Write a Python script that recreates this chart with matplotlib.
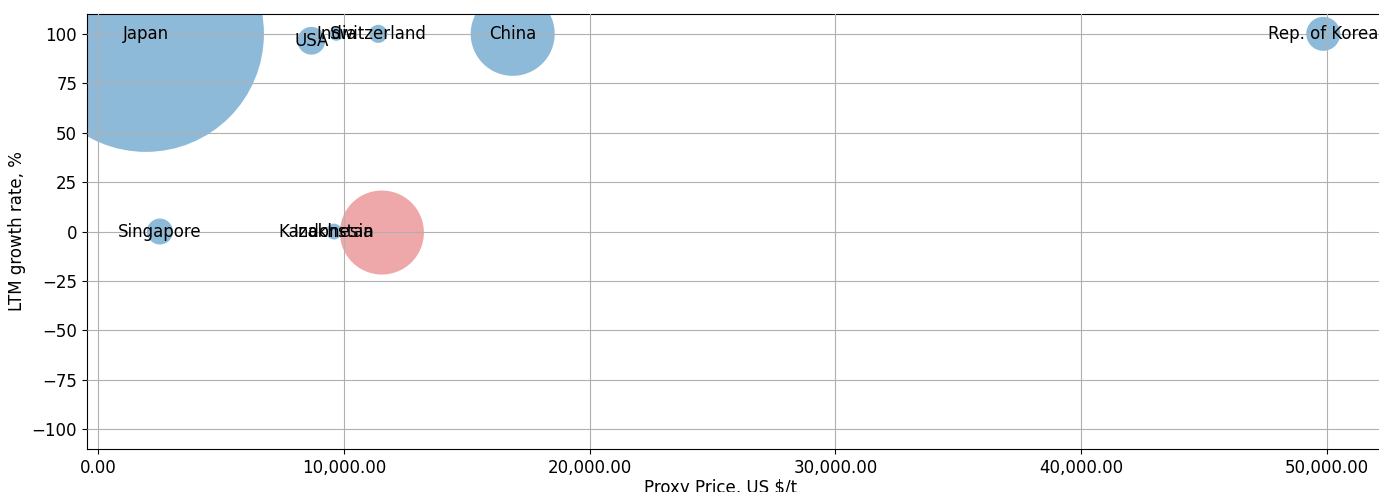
import matplotlib.pyplot as plt
from matplotlib.ticker import StrMethodFormatter

# Data
countries = ['Japan', 'USA', 'India', 'Switzerland', 'China', 'Rep. of Korea',
             'Singapore', 'Kazakhstan', 'Indonesia']
price = [1950, 8680, 9700, 11400, 16870, 49840, 2520, 9600, 11550]
growth = [100, 96.5, 100, 100, 100, 100, 0, 0, -0.5]
bubble_size = [28900, 400, 100, 170, 3660, 600, 350, 130, 3660]
colors = ['C0', 'C0', 'C0', 'C0', 'C0', 'C0', 'C0', 'C0', 'C3']
label_x = [1950, 8680, 9700, 11400, 16870, 49840, 2520, 9300, 9600]
label_y = [100, 96.5, 100, 100, 100, 100, 0, 0, 0]

fig = plt.figure(figsize=(13.79, 4.92), dpi=100)
ax = fig.add_axes([0.063, 0.0874, 0.944, 0.884])

ax.scatter(price, growth, s=bubble_size, c=colors, alpha=0.5, linewidths=0)
# Indonesia bubble is lighter
ax.collections[0].set_alpha(None)
ax.collections[0].set_facecolor([(0.122, 0.467, 0.706, 0.5) if c == 'C0'
                                 else (0.839, 0.153, 0.157, 0.4) for c in colors])
for name, lx, ly in zip(countries, label_x, label_y):
    ax.text(lx, ly, name, ha='center', va='center', fontsize=12)

ax.set_xlim(-450, 52500)
ax.set_ylim(-110, 110)
ax.set_yticks(range(-100, 101, 25))
ax.xaxis.set_major_formatter(StrMethodFormatter('{x:,.2f}'))
ax.tick_params(labelsize=12)
ax.grid(True)
ax.set_axisbelow(False)
ax.spines['right'].set_visible(False)

ax.set_xlabel('Proxy Price, US $/t', fontsize=12)
ax.xaxis.set_label_coords(0.487, -0.068)
ax.set_ylabel('LTM growth rate, %', fontsize=12)

plt.savefig('out.png', dpi=100)
